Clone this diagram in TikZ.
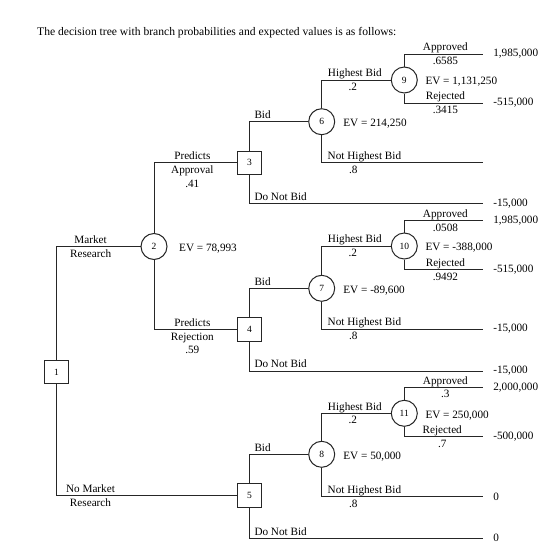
\documentclass[tikz,border=0pt]{standalone}
\usepackage{fontspec}
\setmainfont{Liberation Serif}
\usetikzlibrary{positioning}
\tikzset{
  chance/.style={circle, draw=black!85, line width=1pt, minimum size=26pt,
                 inner sep=0pt, font=\fontsize{9.5}{11}\selectfont},
  decision/.style={rectangle, draw=black!85, line width=1pt, minimum size=23.3pt,
                   inner sep=0pt, font=\fontsize{9.5}{11}\selectfont},
  branch/.style={line width=1pt, draw=black!85},
  lab/.style={font=\fontsize{11.2}{13.6}\selectfont, inner sep=0pt, align=center},
  abv/.style={lab, anchor=base, yshift=3.3pt},
  blw/.style={lab, anchor=north, yshift=-2.6pt},
  bidlab/.style={lab, anchor=base west, xshift=4.5pt, yshift=3.3pt},
  val/.style={lab, anchor=west, xshift=9.5pt},
  ev/.style={lab, yshift=-2pt},
}
\begin{document}
\begin{tikzpicture}[x=1pt, y=-1pt]
  \fill[white] (0,0) rectangle (554,554);
  \useasboundingbox (0,0) rectangle (554,554);

  \node[lab, anchor=west, font=\fontsize{11.6}{14}\selectfont] (title) at (37,33)
    {The decision tree with branch probabilities and expected values is as follows:};

  %% === Decision and chance nodes ===
  \node[decision] (n1)  at (56.5,372)   {1};
  \node[chance]   (n2)  at (154,246.5)  {2};
  \node[decision] (n3)  at (249.5,162.7) {3};
  \node[decision] (n4)  at (249.5,329.5) {4};
  \node[decision] (n5)  at (249.5,495.5) {5};
  \node[chance]   (n6)  at (321.7,121.7) {6};
  \node[chance]   (n7)  at (321.7,288.3) {7};
  \node[chance]   (n8)  at (321.7,454.3) {8};
  \node[chance]   (n9)  at (404.3,80)    {9};
  \node[chance]   (n10) at (404.3,246)   {10};
  \node[chance]   (n11) at (404.3,413.3) {11};

  %% === Branch ends ===
  \coordinate (e9a)  at (483.3,54);
  \coordinate (e9b)  at (483.3,103);
  \coordinate (e6b)  at (483.3,162.7);
  \coordinate (e3b)  at (483.3,203.7);
  \coordinate (e10a) at (483.3,220.7);
  \coordinate (e10b) at (483.3,269.7);
  \coordinate (e7b)  at (483.3,329);
  \coordinate (e4b)  at (483.3,371);
  \coordinate (e11a) at (483.3,387.3);
  \coordinate (e11b) at (483.3,436.7);
  \coordinate (e8b)  at (483.3,496.7);
  \coordinate (e5b)  at (483.3,538.3);

  %% === Expected values ===
  \node[ev, right=11.5pt of n2]  (ev2)  {EV = 78,993};
  \node[ev, right=8pt of n6]     (ev6)  {EV = 214,250};
  \node[ev, right=8pt of n7]     (ev7)  {EV = -89,600};
  \node[ev, right=8pt of n8]     (ev8)  {EV = 50,000};
  \node[ev, right=7.5pt of n9]   (ev9)  {EV = 1,131,250};
  \node[ev, right=7.5pt of n10]  (ev10) {EV = -388,000};
  \node[ev, right=7.5pt of n11]  (ev11) {EV = 250,000};

  %% === Market research or not ===
  \draw[branch] (n1) |- (n2) node[abv, pos=0.703] {Market}
                             node[blw, pos=0.703] {Research};
  \draw[branch] (n1) |- (n5) node[abv, pos=0.594] {No Market}
                             node[blw, pos=0.594] {Research};

  %% === Research outcome ===
  \draw[branch] (n2) |- (n3) node[abv, pos=0.73] {Predicts}
                             node[blw, pos=0.73] {Approval\\.41};
  \draw[branch] (n2) |- (n4) node[abv, pos=0.73] {Predicts}
                             node[blw, pos=0.73] {Rejection\\.59};

  %% === Bid / do not bid ===
  \draw[branch] (n3) |- (n6)  node[bidlab, pos=0.5] {Bid};
  \draw[branch] (n3) |- (e3b) node[bidlab, pos=0.5] {Do Not Bid} node[val] {-15,000};
  \draw[branch] (n4) |- (n7)  node[bidlab, pos=0.5] {Bid};
  \draw[branch] (n4) |- (e4b) node[bidlab, pos=0.5] {Do Not Bid} node[val] {-15,000};
  \draw[branch] (n5) |- (n8)  node[bidlab, pos=0.5] {Bid};
  \draw[branch] (n5) |- (e5b) node[bidlab, pos=0.5] {Do Not Bid} node[val] {0};

  %% === Highest bid or not ===
  \draw[branch] (n6) |- (n9)  node[abv, pos=0.74] {Highest Bid} node[blw, pos=0.725] {.2};
  \draw[branch] (n6) |- (e6b) node[bidlab, pos=0.5, xshift=1pt] {Not Highest Bid}
                              node[blw, pos=0.598] {.8};
  \draw[branch] (n7) |- (n10) node[abv, pos=0.74] {Highest Bid} node[blw, pos=0.725] {.2};
  \draw[branch] (n7) |- (e7b) node[bidlab, pos=0.5, xshift=1pt] {Not Highest Bid}
                              node[blw, pos=0.598] {.8} node[val] {-15,000};
  \draw[branch] (n8) |- (n11) node[abv, pos=0.74] {Highest Bid} node[blw, pos=0.725] {.2};
  \draw[branch] (n8) |- (e8b) node[bidlab, pos=0.5, xshift=1pt] {Not Highest Bid}
                              node[blw, pos=0.598] {.8} node[val] {0};

  %% === Approval after highest bid ===
  \draw[branch] (n9)  |- (e9a)  node[abv, pos=0.76] {Approved} node[blw, pos=0.76] {.6585}
                                node[val] {1,985,000};
  \draw[branch] (n9)  |- (e9b)  node[abv, pos=0.76] {Rejected} node[blw, pos=0.76] {.3415}
                                node[val] {-515,000};
  \draw[branch] (n10) |- (e10a) node[abv, pos=0.76] {Approved} node[blw, pos=0.76] {.0508}
                                node[val] {1,985,000};
  \draw[branch] (n10) |- (e10b) node[abv, pos=0.76] {Rejected} node[blw, pos=0.76] {.9492}
                                node[val] {-515,000};
  \draw[branch] (n11) |- (e11a) node[abv, pos=0.76] {Approved} node[blw, pos=0.76] {.3}
                                node[val] {2,000,000};
  \draw[branch] (n11) |- (e11b) node[abv, pos=0.74] {Rejected} node[blw, pos=0.74] {.7}
                                node[val] {-500,000};
\end{tikzpicture}
\end{document}
